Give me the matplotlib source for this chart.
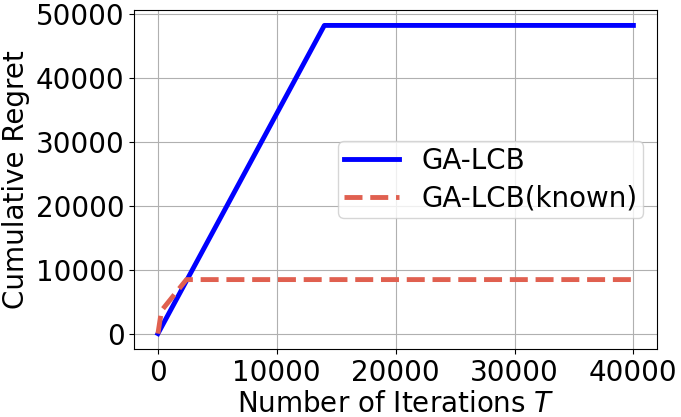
import matplotlib
matplotlib.use("Agg")
import matplotlib.pyplot as plt

# data
iters_lcb = [0, 14000, 40000]
regret_lcb = [0, 48200, 48200]

iters_known = [0, 300, 2400, 40000]
regret_known = [0, 3600, 8450, 8450]

fig, ax = plt.subplots(figsize=(6.81, 4.17), dpi=100)

ax.plot(iters_lcb, regret_lcb, color='blue', linewidth=3.5, label='GA-LCB')
ax.plot(iters_known, regret_known, color='#e06050', linewidth=3.5,
        linestyle='--', label='GA-LCB(known)')

ax.set_xlabel('Number of Iterations $T$', fontsize=20, labelpad=2)
ax.set_ylabel('Cumulative Regret', fontsize=20, labelpad=4)
ax.tick_params(labelsize=20)
ax.set_xticks([0, 10000, 20000, 30000, 40000])
ax.set_yticks([0, 10000, 20000, 30000, 40000, 50000])
ax.grid(True)
ax.legend(fontsize=20, loc='center right', handlelength=2.0,
          labelspacing=0.35, borderpad=0.2)

fig.subplots_adjust(left=0.197, right=0.965, bottom=0.163, top=0.976)
fig.savefig('out.png')
